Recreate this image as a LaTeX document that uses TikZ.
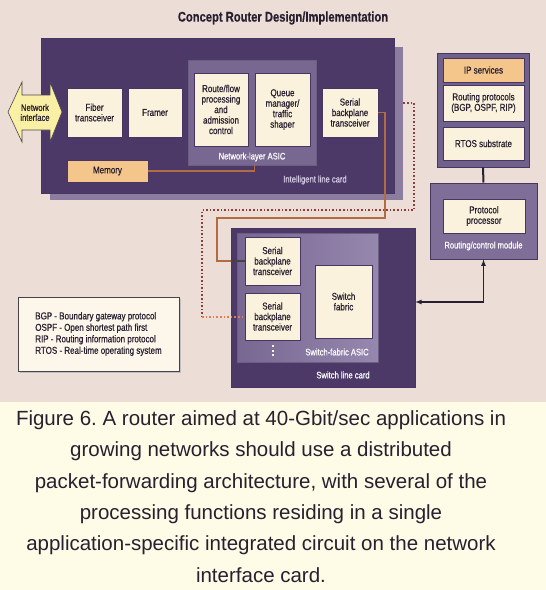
\documentclass[tikz,border=0pt]{standalone}
\usepackage{fontspec}
\usepackage{xcolor}
\usepackage{tikz}
\usetikzlibrary{shadows}
\newfontfamily\diagfont[FakeStretch=0.8,FakeBold=0.6]{Liberation Sans}
\newfontfamily\capfont{Liberation Sans}
\definecolor{bgpink}{RGB}{236,222,215}
\definecolor{capbg}{RGB}{254,252,230}
\definecolor{cardpurple}{RGB}{76,57,104}
\definecolor{shadowpurple}{RGB}{139,124,160}
\definecolor{asicpurple}{RGB}{120,104,145}
\definecolor{sfpurple}{RGB}{150,135,175}
\definecolor{modpurple}{RGB}{126,110,152}
\definecolor{colpurple}{RGB}{112,96,140}
\definecolor{edgepurple}{RGB}{70,54,96}
\definecolor{cream}{RGB}{250,242,220}
\definecolor{orangebox}{RGB}{244,198,140}
\definecolor{niyellow}{RGB}{250,240,165}
\definecolor{wirebrown}{RGB}{178,108,68}
\definecolor{dotbrown}{RGB}{140,62,60}
\definecolor{dotorange}{RGB}{225,125,80}
\definecolor{lavender}{RGB}{212,202,228}
\definecolor{inkdark}{RGB}{40,32,48}
\definecolor{inkgray}{RGB}{70,66,72}

\begin{document}
\begin{tikzpicture}[x=1pt,y=-1pt,
    box/.style={draw=edgepurple, line width=0.6pt, fill=cream, text=inkdark, align=center,
        inner sep=1pt, font=\diagfont\fontsize{10}{10.5}\selectfont},
    orangebox/.style={box, fill=orangebox},
    card/.style={draw=edgepurple, line width=0.6pt, fill=cardpurple, inner sep=0pt},
    cardlabel/.style={text=white, font=\diagfont\fontsize{9.5}{10.5}\selectfont},
    wire/.style={wirebrown, line width=1.2pt},
    dotwire/.style={dotbrown, line width=1.6pt, dash pattern=on 1.6pt off 2pt}]

    % Sfondo
    \fill[bgpink] (0,0) rectangle (546,402);
    \fill[capbg] (0,402) rectangle (546,590);
    \useasboundingbox (0,0) rectangle (546,590);

    \node[font=\diagfont\bfseries\fontsize{14}{16}\selectfont, text=inkdark] (title) at (283,18) {Concept Router Design/Implementation};

    % Scheda di linea intelligente
    \node[card, fill=shadowpurple, draw=none, minimum width=353pt, minimum height=153pt] (ilcshadow) at (226.5,123.5) {};
    \node[card, minimum width=353pt, minimum height=155pt] (ilc) at (217.5,115.5) {};
    \node[card, fill=asicpurple, draw=edgepurple!80, minimum width=128pt, minimum height=105pt] (nlasic) at (252,112.5) {};

    \node[box, minimum width=55pt, minimum height=49pt] (fiber) at (94.5,112.5) {Fiber\\transceiver};
    \node[box, minimum width=54pt, minimum height=49pt] (framer) at (155,112.5) {Framer};
    \node[box, minimum width=54pt, minimum height=73pt] (route) at (221,109.5) {Route/flow\\processing\\and\\admission\\control};
    \node[box, minimum width=55pt, minimum height=73pt] (queue) at (282.5,109.5) {Queue\\manager/\\traffic\\shaper};
    \node[box, minimum width=56pt, minimum height=49pt] (sbt) at (350,112.5) {Serial\\backplane\\transceiver};
    \node[orangebox, minimum width=81pt, minimum height=22pt] (memory) at (107.5,171) {Memory};

    \node[cardlabel] (nlasiclabel) at (252,157) {Network-layer ASIC};
    \node[cardlabel, text=lavender] (ilclabel) at (315,180) {Intelligent line card};

    % Interfaccia di rete
    \filldraw[fill=niyellow, draw=inkgray, line width=0.6pt]
        (8,112) -- (22,82) -- (22,95) -- (50,95) -- (50,82) -- (62,112)
        -- (50,142) -- (50,130) -- (22,130) -- (22,142) -- cycle;
    \node[text=inkdark, align=center, inner sep=0pt, font=\diagfont\fontsize{9.5}{10}\selectfont] (ni) at (35,112.5) {Network\\interface};

    % Modulo di routing/controllo
    \node[card, fill=colpurple, draw=edgepurple, line width=1pt, minimum width=92pt, minimum height=114pt] (ipcol) at (483,110) {};
    \node[orangebox, minimum width=81pt, minimum height=24pt] (ipserv) at (483.5,70) {IP services};
    \node[box, minimum width=81pt, minimum height=36pt] (routproto) at (483.5,103) {Routing protocols\\(BGP, OSPF, RIP)};
    \node[box, minimum width=81pt, minimum height=33pt] (rtos) at (483.5,143.5) {RTOS substrate};

    \node[card, fill=modpurple, line width=1pt, minimum width=107pt, minimum height=76pt] (rcm) at (483.5,221) {};
    \node[box, minimum width=82pt, minimum height=34pt] (protproc) at (484,216) {Protocol\\processor};
    \node[cardlabel] (rcmlabel) at (483.5,246) {Routing/control module};

    % Scheda di linea dello switch
    \node[card, minimum width=184pt, minimum height=159pt] (slc) at (323,307.5) {};
    \node[card, left color=asicpurple, right color=sfpurple, draw=edgepurple!80, minimum width=141pt, minimum height=129pt] (sfasic) at (307.5,297.5) {};
    \node[box, minimum width=55pt, minimum height=48pt] (sbt1) at (272.5,261) {Serial\\backplane\\transceiver};
    \node[box, minimum width=55pt, minimum height=47pt] (sbt2) at (272.5,316.5) {Serial\\backplane\\transceiver};
    \node[box, minimum width=57pt, minimum height=73pt] (sfab) at (343.5,301.5) {Switch\\fabric};
    \draw[cream, line width=2pt, dash pattern=on 2pt off 2.5pt] (sbt2.south) ++(0,5) -- ++(0,13);

    \node[cardlabel] (sfasiclabel) at (337,352) {Switch-fabric ASIC};
    \node[cardlabel] (slclabel) at (343,375) {Switch line card};

    % Collegamenti
    \coordinate (b1) at (385,218);
    \coordinate (b2) at (217,218);
    \draw[wire] (memory.east) -| (queue.west |- nlasic.south);
    \draw[wire] (sbt.east) -| (b1) -- (b2) |- (sbt1.west);
    \draw[wire, inkgray] (sbt1.west -| slc.west) -- (sbt1.west);

    \coordinate (d1) at (414,103);
    \coordinate (d2) at (414,210);
    \coordinate (d3) at (202,210);
    \coordinate (d4) at (202,317);
    \draw[dotwire] (ilcshadow.east |- d1) -- (d1) -- (d2) -- (d3) -- (d4);
    \draw[dotwire, dotorange] (d4) -- (d4 -| sbt2.west);

    \draw[line width=2pt, inkdark] (ipcol.south) -- (rcm.north);
    \draw[<->, >=latex, line width=1.2pt, inkdark] (slc.east |- 0,302) -| (rcm.south);

    % Legenda
    \node[draw=inkgray, line width=0.5pt, fill=cream!60!white, text=inkdark, align=left,
        drop shadow={shadow xshift=2pt, shadow yshift=-2pt, fill=gray!50, opacity=1},
        minimum width=161pt, minimum height=74pt, font=\diagfont\fontsize{10}{11.5}\selectfont] (legend) at (98.5,334)
        {BGP - Boundary gateway protocol\\OSPF - Open shortest path first\\RIP - Routing information protocol\\RTOS - Real-time operating system};

    % Didascalia
    \node[text=inkdark, align=center, font=\capfont\frenchspacing\fontsize{20.5}{31.4}\selectfont] (caption) at (261,496.5)
        {Figure 6. A router aimed at 40-Gbit/sec applications in\\growing networks should use a distributed\\packet-forwarding architecture, with several of the\\processing functions residing in a single\\application-specific integrated circuit on the network\\interface card.};
\end{tikzpicture}
\end{document}
